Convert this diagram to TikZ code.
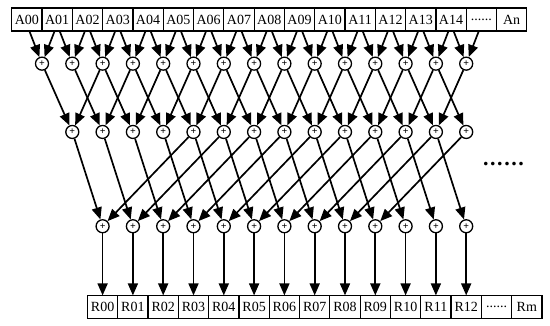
\documentclass[tikz,border=0pt]{standalone}
\usepackage{fontspec}
\setmainfont{Liberation Serif}
\usetikzlibrary{arrows.meta,positioning,calc}
\tikzset{
  cell/.style={draw, line width=1.2pt, minimum width=30.3pt, minimum height=23pt,
               inner sep=0pt, outer sep=0pt, font=\fontsize{14}{14}\selectfont},
  adder/.style={draw, circle, line width=1.3pt, minimum size=13pt, inner sep=0pt,
                fill=white, font=\fontsize{10}{10}\selectfont\bfseries},
  flow/.style={-{Triangle[length=12pt,width=10pt]}, line width=1.7pt},
}

\begin{document}
\begin{tikzpicture}[x=1pt, y=-1pt]
  \useasboundingbox (0,0) rectangle (550,325);
  % input row
  \node[cell] (a0) at (26.85,19.5) {A00};
  \foreach \i [remember=\i as \j (initially 0)] in {1,...,14}
    \node[cell, right=0pt of a\j] (a\i) {A\ifnum\i<10 0\fi\i};
  \node[cell, right=0pt of a14] (a15) {......};
  \node[cell, right=0pt of a15] (a16) {An};
  % adder rows, on the cell borders
  \foreach \k in {1,...,15}
    \node[adder, below=25.5pt of a\k.south west] (p\k) {+};
  \foreach \k in {2,...,15}
    \node[adder, below=54pt of p\k] (q\k) {+};
  \foreach \k in {3,...,15}
    \node[adder, below=80pt of q\k] (r\k) {+};
  % output row
  \foreach \k [evaluate=\k as \n using int(\k-3)] in {3,...,15}
    \node[cell, below=62pt of r\k] (b\n) {R\ifnum\n<10 0\fi\n};
  \node[cell, right=0pt of b12] (b13) {......};
  \node[cell, right=0pt of b13] (b14) {Rm};
  \node[font=\fontsize{22}{22}\selectfont\bfseries] (more) at (503.5,164)
    {.\kern1.6pt.\kern1.6pt.\kern1.6pt.\kern1.6pt.\kern1.6pt.};
  % inputs to first adders
  \foreach \k [evaluate=\k as \m using int(\k-1)] in {1,...,15} {
    \draw[flow] ($(a\m.south)+(2.5,0)$) -- (p\k);
    \draw[flow] ($(a\k.south)+(-2.5,0)$) -- (p\k);
  }
  % first to second adders
  \foreach \k [evaluate=\k as \m using int(\k-1),
               evaluate=\k as \n using int(\k+1)] in {2,...,15} {
    \draw[flow] (p\m) -- (q\k);
    \ifnum\n<16 \draw[flow] (p\n) -- (q\k); \fi
  }
  % second to third adders
  \foreach \k [evaluate=\k as \m using int(\k-1),
               evaluate=\k as \n using int(\k+3)] in {3,...,15} {
    \draw[flow] (q\m) -- (r\k);
    \ifnum\n<16 \draw[flow] (q\n) -- (r\k); \fi
  }
  % third adders to outputs
  \foreach \k [evaluate=\k as \n using int(\k-3)] in {3,...,15}
    \draw[flow] (r\k) -- (b\n);
\end{tikzpicture}
\end{document}
